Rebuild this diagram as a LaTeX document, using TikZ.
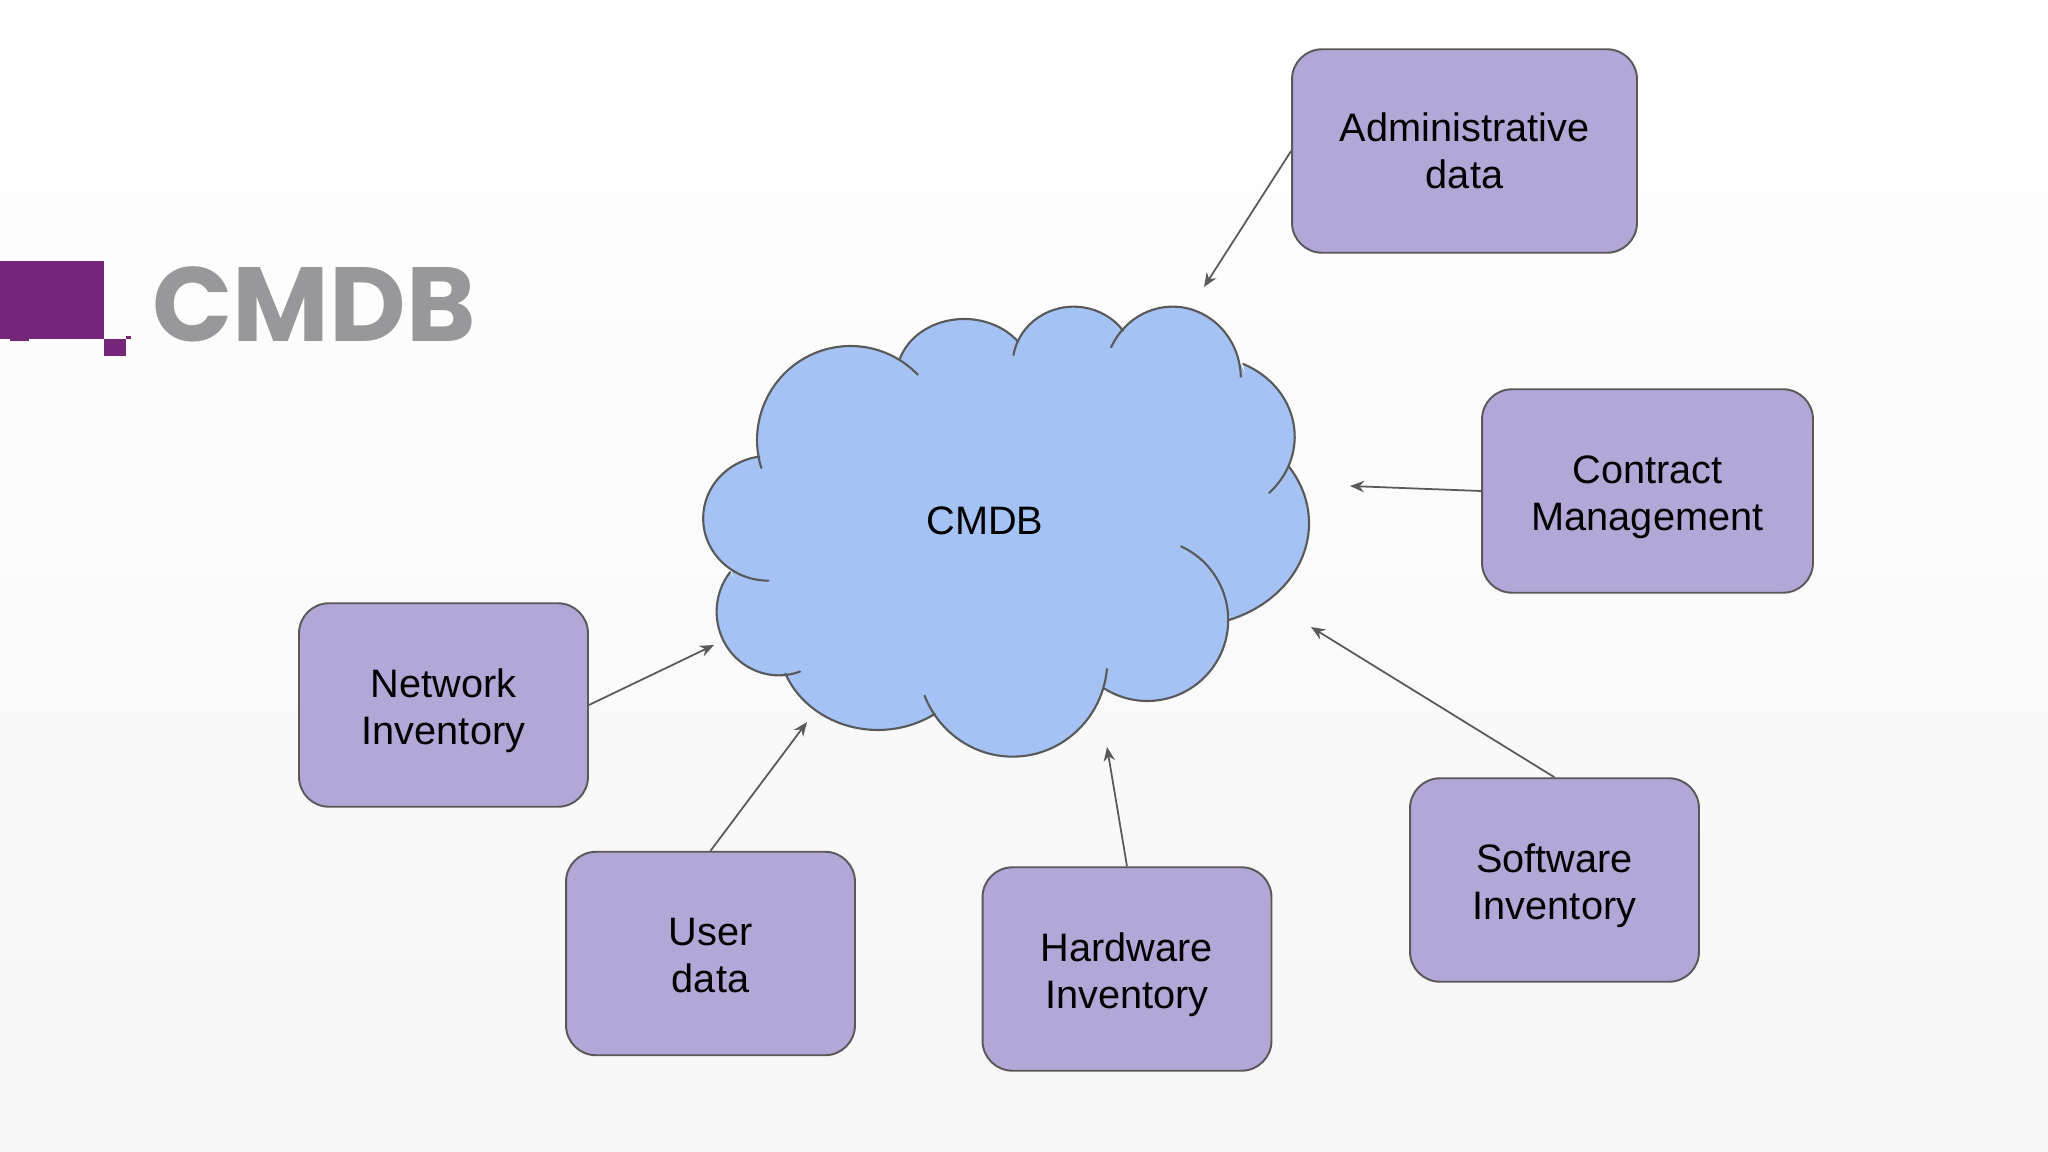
\documentclass[tikz,border=0pt]{standalone}
\usepackage{fontspec}
\setmainfont{Liberation Sans}
\newfontfamily\logofont{Poppins}
\usetikzlibrary{arrows.meta}
\definecolor{boxfill}{HTML}{B2A7D6}
\definecolor{cloudfill}{HTML}{A4C2F4}
\definecolor{linegray}{HTML}{595959}
\definecolor{logopurple}{HTML}{76267A}
\definecolor{logogray}{HTML}{98989A}
\definecolor{bgbottom}{HTML}{F6F6F7}
\tikzset{
  boxnode/.style={draw=linegray,line width=1.1pt,fill=boxfill,rounded corners=0.6cm,
    minimum width=5.78cm,minimum height=4.07cm,align=center,inner sep=0pt,
    font=\fontsize{22.6}{26.6}\selectfont,text=black},
  feed/.style={draw=linegray,line width=1pt,-{Stealth[length=8pt,width=6.5pt]}},
  lobe/.style={draw=linegray,line width=1.2pt,line cap=round},
  lobefill/.style={fill=cloudfill,draw=none},
  logoblock/.style={fill=logopurple,draw=none}
}
\newcommand{\drop}{\rule{0pt}{22.5pt}}
% cloud lobes: centre x / centre y / x radius / y radius / start angle / end angle
\newcommand{\lobelist}{210/685/155/187/90/262,
  405/450/222/282/162.7/316,
  675/257/160/170/197.8/323.1,
  935/224/145/174/189.5/324,
  1170/265/162/215/205.7/358.7,
  1250/440/210/240/-65.3/44.7,
  1204/700/290/309/-33.4/69.8,
  1110/990/192/243/-65.3/122,
  790/1110/225/290/5.4/158.3,
  470/1050/237/270/55.3/158,
  235/965/148/191/70.2/218.3}
\begin{document}
\begin{tikzpicture}[x=0.02cm,y=-0.02cm]
\useasboundingbox (0,0) rectangle (2048,1152);
\shade[top color=white,bottom color=bgbottom] (0,0) rectangle (2048,1152);

% logo
\fill[logoblock] (0,261) rectangle (104,339);
\fill[logoblock] (104,339) rectangle (126,355.5);
\fill[logoblock] (126,336) rectangle (130.5,339);
\fill[logoblock] (10,339) rectangle (29,341);
\node[anchor=base west,inner sep=0pt,text=logogray,font=\logofont\bfseries\fontsize{60}{60}\selectfont] (logotext) at (152,341.5) {CMDB};

% cloud
\begin{scope}[shift={(680,290)},x=0.008418cm,y=-0.006667cm]
  \fill[lobefill] (187,498)--(523,205)--(665,120)--(803,155)--(1048,122)--(1332,222)--(1447,530)--(1420,800)--(1300,990)--(1008,1197)--(605,1272)--(420,1270)--(250,1152)--(122,847)--cycle;
  \foreach \cx/\cy/\rx/\ry/\sa/\ea in \lobelist {
    \fill[lobefill] ({\cx+\rx*cos(\sa)},{\cy+\ry*sin(\sa)}) arc[start angle=\sa,end angle=\ea,x radius=\rx,y radius=\ry] -- cycle;
  }
  \foreach \cx/\cy/\rx/\ry/\sa/\ea in \lobelist {
    \draw[lobe] ({\cx+\rx*cos(\sa)},{\cy+\ry*sin(\sa)}) arc[start angle=\sa,end angle=\ea,x radius=\rx,y radius=\ry];
  }
\end{scope}
\node[inner sep=0pt,font=\fontsize{22.6}{26.6}\selectfont,text=black] (cloud) at (985,521) {CMDB};

% boxes
\node[boxnode,minimum width=6.9cm] (admin) at (1464.5,151) {Administrative\\data};
\node[boxnode,minimum width=6.62cm] (contract) at (1647.5,491) {\drop Contract\\Management};
\node[boxnode] (network) at (443.5,705) {\drop Network\\Inventory};
\node[boxnode] (user) at (710.5,953.5) {\rule{0pt}{18pt}User\\data};
\node[boxnode] (hardware) at (1127,969) {\drop Hardware\\Inventory};
\node[boxnode] (software) at (1554.5,880) {\drop Software\\Inventory};

% free ends
\coordinate (endadmin) at (1204,287);
\coordinate (endcontract) at (1350,486);
\coordinate (endnetwork) at (714,645);
\coordinate (enduser) at (807,722);
\coordinate (endhardware) at (1107,747);
\coordinate (endsoftware) at (1311,627);

\draw[feed] (admin.west) -- (endadmin);
\draw[feed] (contract.west) -- (endcontract);
\draw[feed] (network.east) -- (endnetwork);
\draw[feed] (user.north) -- (enduser);
\draw[feed] (hardware.north) -- (endhardware);
\draw[feed] (software.north) -- (endsoftware);
\end{tikzpicture}
\end{document}
